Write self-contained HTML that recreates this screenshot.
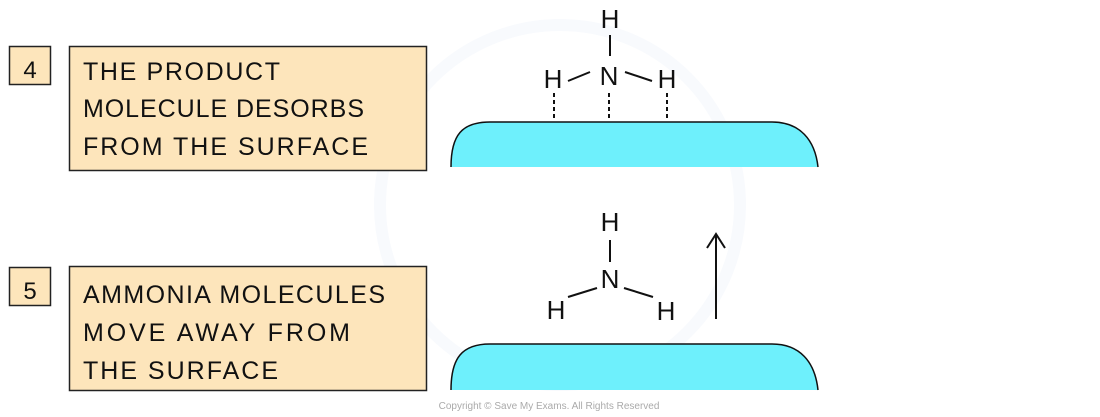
<!DOCTYPE html>
<html><head><meta charset="utf-8"><style>
html,body{margin:0;padding:0;background:#fff;}
svg{display:block;}
text{font-family:"Liberation Sans","DejaVu Sans",sans-serif;fill:#111;}
</style></head><body>
<svg width="1100" height="417" viewBox="0 0 1100 417" xmlns="http://www.w3.org/2000/svg">
<circle cx="560" cy="205" r="180" fill="none" stroke="#f8fafd" stroke-width="12"/>
<!-- Box 4 -->
<rect x="9.5" y="46.5" width="41" height="38" fill="#fde5bb" stroke="#222" stroke-width="1.5"/>
<text x="30" y="78" font-size="24" text-anchor="middle">4</text>
<rect x="69.5" y="46.5" width="357" height="124" fill="#fde5bb" stroke="#222" stroke-width="1.5"/>
<g font-size="25">
<text x="83" y="80" textLength="197" lengthAdjust="spacing">THE  PRODUCT</text>
<text x="83" y="117" textLength="281" lengthAdjust="spacing">MOLECULE  DESORBS</text>
<text x="83" y="155" textLength="285" lengthAdjust="spacing">FROM  THE  SURFACE</text>
</g>
<!-- Box 5 -->
<rect x="9.5" y="267.5" width="41" height="38" fill="#fde5bb" stroke="#222" stroke-width="1.5"/>
<text x="30" y="299" font-size="24" text-anchor="middle">5</text>
<rect x="69.5" y="266.5" width="357" height="124" fill="#fde5bb" stroke="#222" stroke-width="1.5"/>
<g font-size="25">
<text x="83" y="303" textLength="302" lengthAdjust="spacing">AMMONIA  MOLECULES</text>
<text x="83" y="341" textLength="267" lengthAdjust="spacing">MOVE  AWAY  FROM</text>
<text x="83" y="379" textLength="195" lengthAdjust="spacing">THE  SURFACE</text>
</g>
<!-- Surface 1 -->
<path d="M451,167 C451,135 462,122 490,122 L772,122 C800,122 815,140 818,167 Z" fill="#6ef0fc"/>
<path d="M451,167 C451,135 462,122 490,122 L772,122 C800,122 815,140 818,167" fill="none" stroke="#111" stroke-width="1.5"/>
<!-- Surface 2 -->
<path d="M451,390 C451,358 462,344 490,344 L772,344 C800,344 815,362 818,390 Z" fill="#6ef0fc"/>
<path d="M451,390 C451,358 462,344 490,344 L772,344 C800,344 815,362 818,390" fill="none" stroke="#111" stroke-width="1.5"/>
<!-- Molecule 1 -->
<g font-size="26" text-anchor="middle">
<text x="610" y="28">H</text>
<text x="609" y="85">N</text>
<text x="553" y="88">H</text>
<text x="667" y="88">H</text>
</g>
<g stroke="#111" stroke-width="2" fill="none">
<line x1="610" y1="35" x2="610" y2="56"/>
<line x1="568" y1="81" x2="590" y2="72"/>
<line x1="625" y1="72" x2="652" y2="81"/>
<g stroke-dasharray="4,3">
<line x1="554" y1="93" x2="554" y2="121"/>
<line x1="609" y1="93" x2="609" y2="121"/>
<line x1="667" y1="93" x2="667" y2="121"/>
</g>
</g>
<!-- Molecule 2 -->
<g font-size="26" text-anchor="middle">
<text x="610" y="231">H</text>
<text x="610" y="288">N</text>
<text x="556" y="319">H</text>
<text x="666" y="320">H</text>
</g>
<g stroke="#111" stroke-width="2" fill="none">
<line x1="610" y1="240" x2="610" y2="262"/>
<line x1="568" y1="297" x2="597" y2="288"/>
<line x1="624" y1="288" x2="653" y2="297"/>
<line x1="716" y1="234" x2="716" y2="319"/>
<polyline points="707,248 716,234 725,248"/>
</g>
<text x="549" y="409" font-size="10" style="fill:#aaa" text-anchor="middle">Copyright © Save My Exams. All Rights Reserved</text>
</svg>
</body></html>
